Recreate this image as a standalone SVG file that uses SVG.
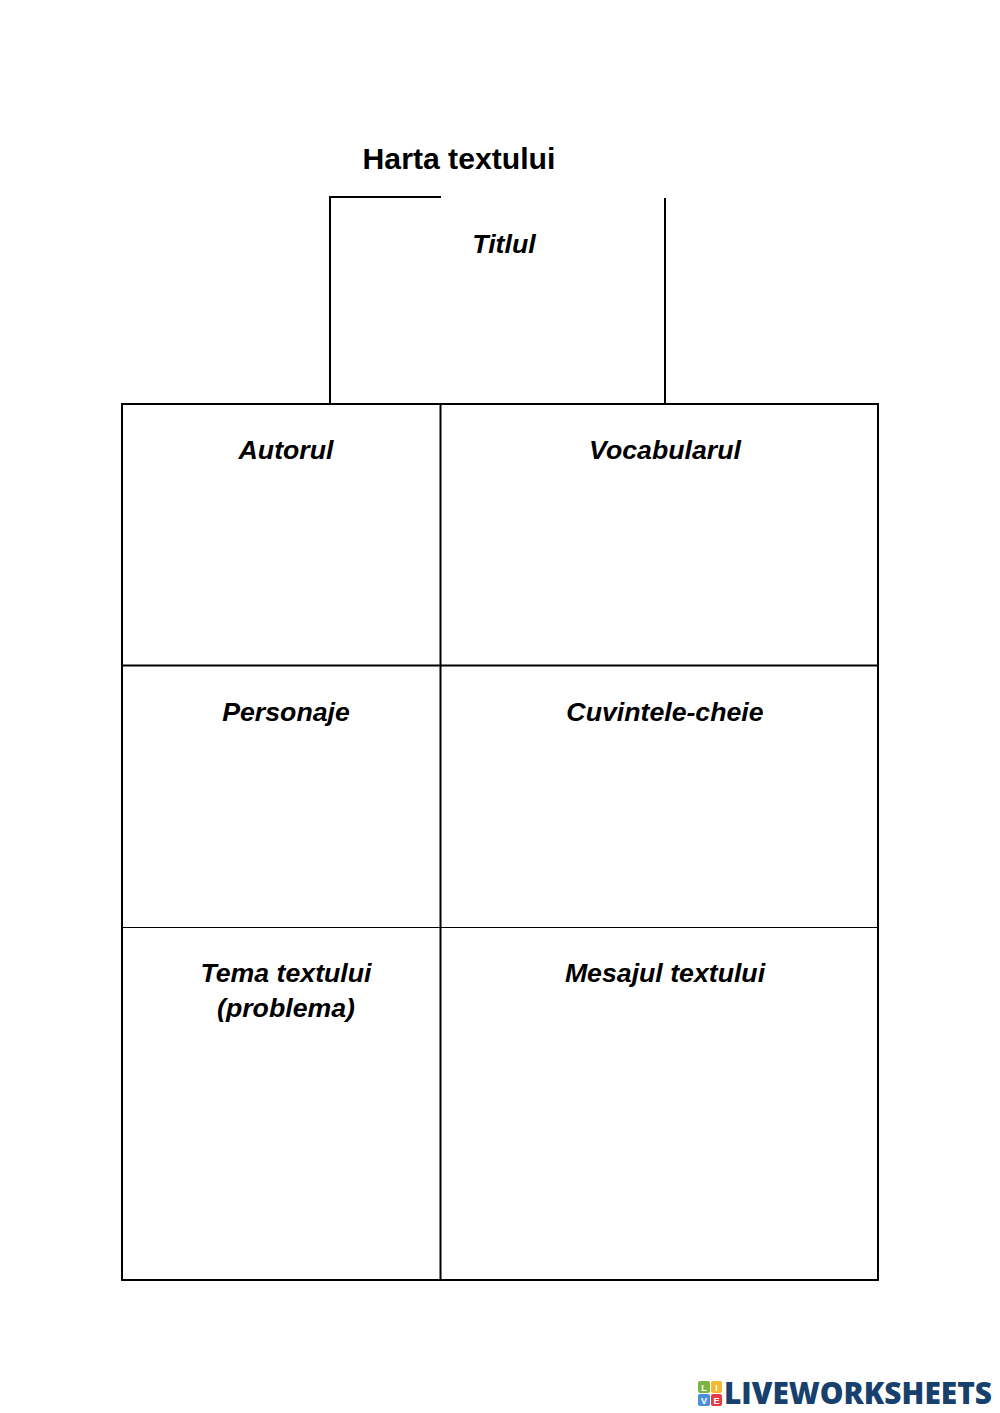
<svg xmlns="http://www.w3.org/2000/svg" width="1000" height="1413" viewBox="0 0 1000 1413">
<style>
.l{fill:none;stroke:#000;stroke-width:2}
.t{font-family:"Liberation Sans",Arial,sans-serif;font-size:26.7px;font-weight:bold;font-style:italic;fill:#000;text-anchor:middle}
.b{font-family:"Liberation Sans",sans-serif;font-size:9px;font-weight:bold;fill:#fff;text-anchor:middle}
</style>
<rect width="1000" height="1413" fill="#fff"/>
<text x="459" y="169" style="font-family:'Liberation Sans',Arial,sans-serif;font-size:30.200px;font-weight:bold;fill:#000;text-anchor:middle">Harta textului</text>
<g id="connectors">
<path class="l" d="M330 403V197H441"/>
<path class="l" d="M665 198V403"/>
</g>
<g id="titlul"><text class="t" x="504" y="252.500">Titlul</text></g>
<g id="grid">
<rect class="l" x="122" y="404" width="756" height="876"/>
<path class="l" d="M440.500 404V1280M122 665.500H878"/>
<path d="M122 927.500H878" fill="none" stroke="#000" stroke-width="1"/>
</g>
<g id="autorul"><text class="t" x="286" y="458.500">Autorul</text></g>
<g id="vocabularul"><text class="t" x="665" y="458.500">Vocabularul</text></g>
<g id="personaje"><text class="t" x="286" y="720.500">Personaje</text></g>
<g id="cuvintele"><text class="t" x="665" y="720.500">Cuvintele-cheie</text></g>
<g id="tema"><text class="t" x="286" y="981.500">Tema textului</text><text class="t" x="286" y="1016.500">(problema)</text></g>
<g id="mesajul"><text class="t" x="665" y="981.500">Mesajul textului</text></g>
<g id="logo">
<rect x="698" y="1381" width="12" height="12" rx="2" fill="#7cb342"/>
<rect x="711" y="1381" width="11" height="12" rx="2" fill="#f5b82e"/>
<rect x="698" y="1394" width="12" height="12" rx="2" fill="#4a90d9"/>
<rect x="711" y="1394" width="11" height="12" rx="2" fill="#e53945"/>
<text class="b" x="704" y="1390.500">L</text>
<text class="b" x="716.500" y="1390.500">I</text>
<text class="b" x="704" y="1403.500">V</text>
<text class="b" x="716.500" y="1403.500">E</text>
<text x="724" y="1403.500" textLength="268" lengthAdjust="spacingAndGlyphs" style="font-family:'Open Sans','Liberation Sans',sans-serif;font-size:30px;font-weight:800;fill:#17406d">LIVEWORKSHEETS</text>
</g>
</svg>
